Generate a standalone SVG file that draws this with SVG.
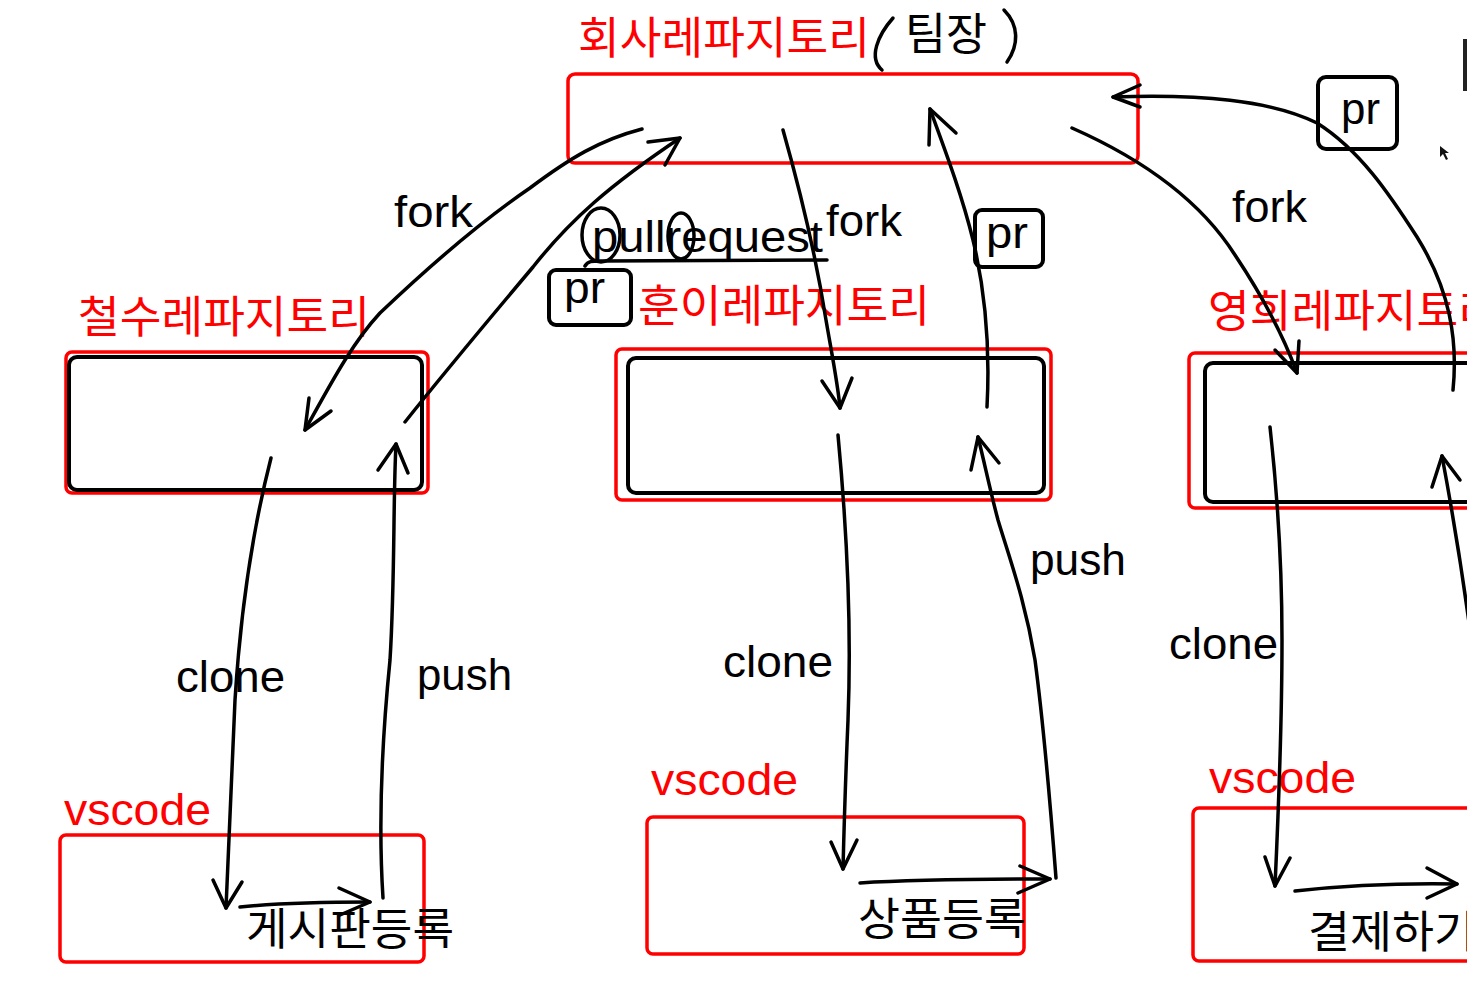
<svg xmlns="http://www.w3.org/2000/svg" width="1467" height="985" viewBox="0 0 1467 985">
<style>
.red{fill:none;stroke:#ff0000;stroke-width:3.5}
.blk{fill:none;stroke:#000;stroke-width:4}
.pen{fill:none;stroke:#000;stroke-width:3.5;stroke-linecap:round;stroke-linejoin:round}
.ko{font-family:"Noto Sans CJK KR","Noto Sans",sans-serif;font-size:44px}
.la{font-family:"Liberation Sans",Arial,sans-serif;font-size:45px;fill:#000}
.lr{fill:#ff0000}
.lb{fill:#000}
</style>
<rect width="1467" height="985" fill="#fff"/>

<g id="company-repo">
<rect class="red" x="568" y="74" width="570" height="89" rx="7"/>
<text class="ko lr" x="578" y="54" textLength="292" lengthAdjust="spacingAndGlyphs">회사레파지토리</text>
<path class="pen" d="M893,18 C878,35 868,58 882,70"/>
<text class="ko lb" x="905" y="50" textLength="82" lengthAdjust="spacingAndGlyphs">팀장</text>
<path class="pen" d="M1004,10 C1019,25 1019,45 1007,62"/>
</g>

<g id="chulsoo-repo">
<rect class="red" x="66" y="352" width="362" height="141" rx="6"/>
<rect class="blk" x="69" y="357" width="353" height="133" rx="8"/>
<text class="ko lr" x="78" y="333" textLength="292" lengthAdjust="spacingAndGlyphs">철수레파지토리</text>
</g>

<g id="hoon-repo">
<rect class="red" x="616" y="349" width="435" height="151" rx="6"/>
<rect class="blk" x="628" y="358" width="416" height="135" rx="8"/>
<text class="ko lr" x="638" y="322" textLength="292" lengthAdjust="spacingAndGlyphs">훈이레파지토리</text>
</g>

<g id="younghee-repo">
<rect class="red" x="1189" y="353" width="320" height="155" rx="6"/>
<rect class="blk" x="1205" y="363" width="300" height="139" rx="8"/>
<text class="ko lr" x="1208" y="327" textLength="292" lengthAdjust="spacingAndGlyphs">영희레파지토리</text>
</g>

<g id="vscode-chulsoo">
<rect class="red" x="60" y="835" width="364" height="127" rx="6"/>
<text class="la lr" x="64" y="825" font-size="46" textLength="147" lengthAdjust="spacingAndGlyphs">vscode</text>
<text class="ko lb" x="246" y="945" textLength="208" lengthAdjust="spacingAndGlyphs">게시판등록</text>
</g>

<g id="vscode-hoon">
<rect class="red" x="647" y="817" width="377" height="137" rx="6"/>
<text class="la lr" x="651" y="795" font-size="46" textLength="147" lengthAdjust="spacingAndGlyphs">vscode</text>
<text class="ko lb" x="858" y="935" textLength="168" lengthAdjust="spacingAndGlyphs">상품등록</text>
</g>

<g id="vscode-younghee">
<rect class="red" x="1193" y="808" width="320" height="153" rx="6"/>
<text class="la lr" x="1209" y="793" font-size="46" textLength="147" lengthAdjust="spacingAndGlyphs">vscode</text>
<text class="ko lb" x="1308" y="948" textLength="168" lengthAdjust="spacingAndGlyphs">결제하기</text>
</g>

<g id="pr-box-1">
<rect class="blk" x="549" y="270" width="82" height="55" rx="7" stroke-width="3.5"/>
<text class="la" x="564" y="303" textLength="41" lengthAdjust="spacingAndGlyphs">pr</text>
</g>
<g id="pr-box-2">
<rect class="blk" x="975" y="210" width="68" height="57" rx="7" stroke-width="3.5"/>
<text class="la" x="986" y="248" textLength="42" lengthAdjust="spacingAndGlyphs">pr</text>
</g>
<g id="pr-box-3">
<rect class="blk" x="1318" y="77" width="79" height="72" rx="8" stroke-width="3.5"/>
<text class="la" x="1341" y="124" textLength="39" lengthAdjust="spacingAndGlyphs">pr</text>
</g>

<g id="connectors">
<path class="pen" d="M642,129 C600,140 570,158 530,188 C480,222 420,275 380,313 C352,343 330,385 305,430"/>
<path class="pen" d="M309,398 L305,430 L331,411"/>
<path class="pen" d="M405,422 C440,378 480,330 533,267 C570,220 610,185 680,138"/>
<path class="pen" d="M648,142 L680,138 L665,165"/>
<path class="pen" d="M783,130 C800,190 815,250 826,320 C832,355 838,385 840,408"/>
<path class="pen" d="M822,381 L840,408 L852,378"/>
<path class="pen" d="M987,407 C990,350 985,290 973,240 C962,195 945,150 930,109"/>
<path class="pen" d="M929,145 L930,109 L956,133"/>
<path class="pen" d="M1072,128 C1140,158 1200,200 1235,255 C1265,300 1285,340 1297,373"/>
<path class="pen" d="M1275,350 L1297,373 L1299,341"/>
<path class="pen" d="M1453,390 C1458,340 1450,290 1417,237 C1390,195 1360,150 1317,123 C1270,100 1200,94 1113,97"/>
<path class="pen" d="M1140,85 L1113,97 L1140,107"/>
<path class="pen" d="M271,458 C250,540 240,620 235,700 C231,780 228,850 226,908"/>
<path class="pen" d="M213,880 L226,908 L242,882"/>
<path class="pen" d="M383,898 C378,820 382,740 390,660 C395,580 393,500 396,444"/>
<path class="pen" d="M378,470 L396,444 L408,473"/>
<path class="pen" d="M240,907 C280,903 330,902 370,902"/>
<path class="pen" d="M339,888 L370,902 L340,915"/>
<path class="pen" d="M838,435 C846,520 852,620 848,720 C845,790 844,830 843,869"/>
<path class="pen" d="M831,842 L843,869 L857,840"/>
<path class="pen" d="M1056,878 C1050,800 1043,720 1035,660 C1025,600 1010,560 998,520 C990,490 985,465 978,437"/>
<path class="pen" d="M971,470 L978,437 L999,463"/>
<path class="pen" d="M860,883 C920,879 990,879 1050,879"/>
<path class="pen" d="M1020,866 L1050,879 L1018,893"/>
<path class="pen" d="M1270,427 C1277,490 1282,560 1282,640 C1282,720 1279,800 1275,886"/>
<path class="pen" d="M1265,857 L1275,886 L1290,858"/>
<path class="pen" d="M1470,630 C1462,570 1454,520 1442,456"/>
<path class="pen" d="M1432,487 L1442,456 L1460,480"/>
<path class="pen" d="M1295,891 C1350,885 1400,883 1457,884"/>
<path class="pen" d="M1427,868 L1457,884 L1427,898"/>
</g>

<g id="labels">
<text class="la" x="394" y="227" textLength="79" lengthAdjust="spacingAndGlyphs">fork</text>
<text class="la" x="826" y="236" textLength="76" lengthAdjust="spacingAndGlyphs">fork</text>
<text class="la" x="1232" y="222" textLength="75" lengthAdjust="spacingAndGlyphs">fork</text>
<text class="la" x="592" y="252" font-size="46" textLength="231" lengthAdjust="spacingAndGlyphs">pullrequest</text>
<ellipse class="pen" cx="601" cy="235" rx="19" ry="27" stroke-width="3"/>
<ellipse class="pen" cx="681" cy="236" rx="13" ry="23" stroke-width="3"/>
<path class="pen" d="M585,266 C588,261 592,261 600,261 L827,260" stroke-width="3"/>
<text class="la" x="1030" y="575" textLength="96" lengthAdjust="spacingAndGlyphs">push</text>
<text class="la" x="417" y="690" textLength="95" lengthAdjust="spacingAndGlyphs">push</text>
<text class="la" x="176" y="692" textLength="109" lengthAdjust="spacingAndGlyphs">clone</text>
<text class="la" x="723" y="677" textLength="110" lengthAdjust="spacingAndGlyphs">clone</text>
<text class="la" x="1169" y="659" textLength="109" lengthAdjust="spacingAndGlyphs">clone</text>
</g>

<rect x="1463" y="39" width="4" height="52" fill="#222"/>
<path d="M1440,146 L1440,157 L1443,154 L1446,160 L1448,159 L1445,153 L1449,153 Z" fill="#111"/>
</svg>
